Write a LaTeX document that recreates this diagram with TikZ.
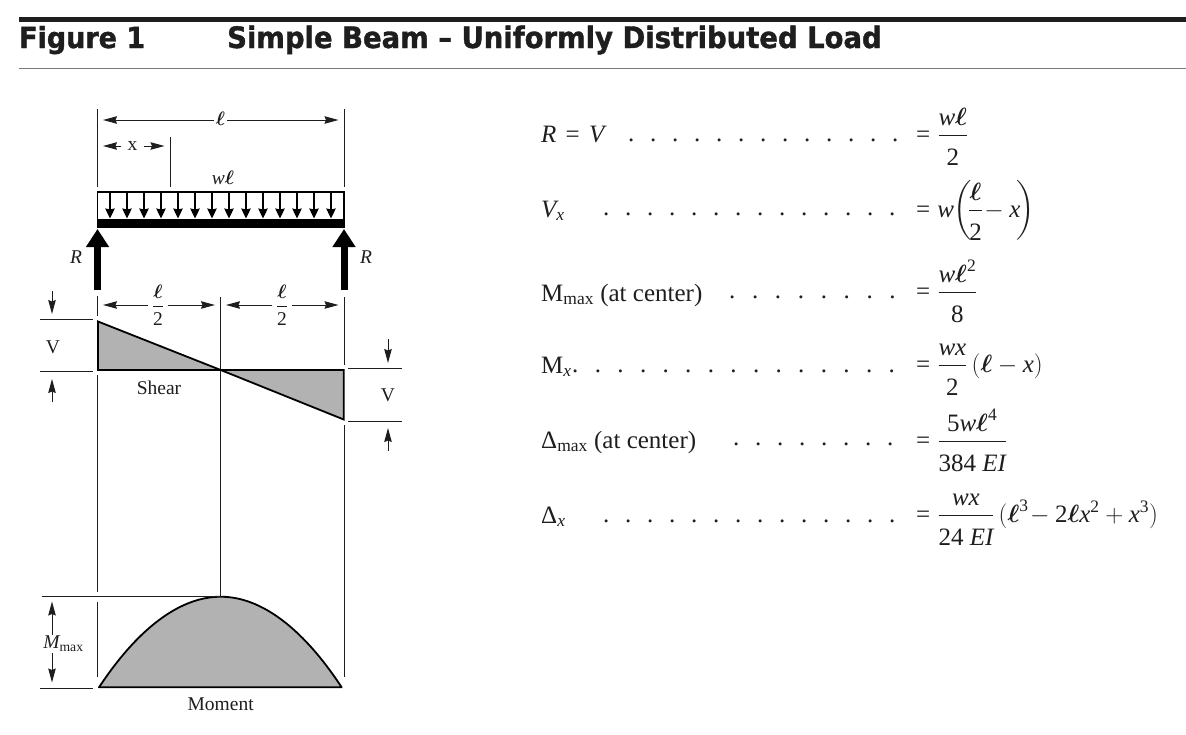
\documentclass[tikz,border=0pt]{standalone}
\usepackage{fix-cm}
\usepackage{amsmath}
\usepackage{fontspec}
\setmainfont{Liberation Serif}
\newfontfamily\titlefont[BoldFeatures={FakeBold=1.2,FakeStretch=0.93}]{DejaVu Sans}
\usetikzlibrary{arrows.meta}
\definecolor{shade}{HTML}{B2B2B2}
\definecolor{ink}{HTML}{1E1E1E}
\definecolor{rulegray}{HTML}{777777}
\newcommand{\eqfrac}[2]{\dfrac{#1}{\rule{0pt}{26pt}#2}}
\newcommand{\bell}{\boldsymbol{\ell}}
\newcommand{\dotrow}[2]{\foreach \n in {1,...,#1}{\makebox[#2pt][l]{.}}}
\tikzset{
titleText/.style={anchor=base west,inner sep=0pt,text=ink,font=\titlefont\bfseries\fontsize{29}{32}\selectfont},
dimText/.style={inner sep=2pt,text=ink,font=\fontsize{19.5}{22}\selectfont},
halfText/.style={inner sep=4pt,text=ink,font=\fontsize{19.5}{22}\selectfont},
eqText/.style={anchor=base west,inner sep=0pt,text=ink,font=\fontsize{25}{30}\selectfont},
extLine/.style={draw=ink,line width=1pt},
dimLine/.style={draw=ink,line width=1pt,-{Stealth[length=14pt,width=7.5pt,inset=1.5pt]}},
loadArrow/.style={draw=black,line width=1.1pt,-{Stealth[length=10pt,width=9.5pt,inset=1pt]}},
reaction/.style={draw=black,line width=7pt,-{Triangle[length=18pt,width=22pt]}},
diagram/.style={draw=black,line width=1.8pt,fill=shade,line join=miter},
}
\begin{document}
\begin{tikzpicture}[x=1pt,y=-1pt]
    \useasboundingbox (0,0) rectangle (1186,734);

    \fill[ink] (19,16.5) rectangle (1186,21.5);
    \draw[rulegray,line width=1pt] (19,68) -- (1186,68);
    \node[titleText] (figNo) at (19,48) {Figure 1};
    \node[titleText,font=\titlefont\bfseries\fontsize{29.5}{32}\selectfont] (figName) at (227,48) {Simple Beam – Uniformly Distributed Load};

    \draw[extLine] (97.5,109) -- (97.5,187);
    \draw[extLine] (344,109) -- (344,187);
    \draw[extLine] (170,137) -- (170,187);
    \node[dimText] (ell) at (220.5,119) {$\bell$};
    \coordinate (ellL) at (103,120);
    \coordinate (ellR) at (338.5,120);
    \draw[dimLine] (ell.west |- ellL) -- (ellL);
    \draw[dimLine] (ell.east |- ellR) -- (ellR);
    \node[dimText,inner sep=6pt] (xLen) at (132.5,146) {x};
    \coordinate (xL) at (103,146);
    \coordinate (xR) at (164.5,146);
    \draw[dimLine] (xLen) -- (xL);
    \draw[dimLine] (xLen) -- (xR);
    \node[dimText] (load) at (223,178) {$\mathit{w}\bell$};

    \draw[draw=black,line width=1.4pt] (97.5,192) rectangle (344,220);
    \foreach \i in {0,...,13}
        \draw[loadArrow] ({110+17*\i},193) -- ({110+17*\i},218.5);
    \fill[black] (97,219) rectangle (344.5,227.5);

    \coordinate (reactA) at (97.5,290);
    \coordinate (reactAtip) at (97.5,229);
    \coordinate (reactB) at (344,290);
    \coordinate (reactBtip) at (344,229);
    \draw[reaction] (reactA) -- (reactAtip);
    \draw[reaction] (reactB) -- (reactBtip);
    \node[dimText] (rA) at (76,257) {$\mathit{R}$};
    \node[dimText] (rB) at (366,257) {$\mathit{R}$};

    \node[halfText] (halfA) at (158,305) {$\dfrac{\bell}{\mathrm{2}}$};
    \node[halfText] (halfB) at (282,305) {$\dfrac{\bell}{\mathrm{2}}$};
    \coordinate (halfAL) at (103,305);
    \coordinate (halfAR) at (215,305);
    \coordinate (halfBL) at (226,305);
    \coordinate (halfBR) at (338.5,305);
    \draw[dimLine] (halfA) -- (halfAL);
    \draw[dimLine] (halfA) -- (halfAR);
    \draw[dimLine] (halfB) -- (halfBL);
    \draw[dimLine] (halfB) -- (halfBR);

    \draw[extLine] (97.5,296) -- (97.5,316);
    \draw[extLine] (97.5,375) -- (97.5,592);
    \draw[extLine] (97.5,602) -- (97.5,677);
    \draw[extLine] (220.7,297) -- (220.7,597);
    \draw[extLine] (344,297) -- (344,365);
    \draw[extLine] (344,425) -- (344,677);

    \draw[diagram] (98,321.5) -- (220.7,370) -- (98,370) -- cycle;
    \draw[diagram] (220.7,370) -- (343.7,370) -- (343.7,419.5) -- cycle;
    \node[dimText] (shear) at (159,388) {Shear};

    \draw[extLine] (39.5,319.5) -- (92.5,319.5);
    \draw[extLine] (39.5,371.5) -- (92.5,371.5);
    \draw[extLine] (348,368.5) -- (402,368.5);
    \draw[extLine] (348,421.5) -- (402,421.5);
    \node[dimText] (vA) at (53,347) {V};
    \node[dimText] (vB) at (388,395) {V};
    \coordinate (vAa) at (52,291);
    \coordinate (vAb) at (52,314);
    \coordinate (vAc) at (52,402);
    \coordinate (vAd) at (52,379);
    \coordinate (vBa) at (388,339);
    \coordinate (vBb) at (388,363);
    \coordinate (vBc) at (388,451);
    \coordinate (vBd) at (388,428);
    \draw[dimLine] (vAa) -- (vAb);
    \draw[dimLine] (vAc) -- (vAd);
    \draw[dimLine] (vBa) -- (vBb);
    \draw[dimLine] (vBc) -- (vBd);

    \draw[diagram,line join=round] (99,687.3) parabola bend (220.7,596.7) (341.7,687.3) -- cycle;
    \draw[extLine] (42,596.7) -- (220.7,596.7);
    \draw[extLine] (39.5,688) -- (92.5,688);
    \node[dimText,inner sep=1pt] (mMax) at (63.5,644) {$\mathit{M}_{\mathrm{max}}$};
    \coordinate (mUp) at (52,601.5);
    \coordinate (mDown) at (52,682.5);
    \draw[dimLine] (mMax.north -| mUp) -- (mUp);
    \draw[dimLine] (mMax.south -| mDown) -- (mDown);
    \node[dimText] (moment) at (220.7,704) {Moment};

    \node[eqText] (lineA) at (541,142) {$\mathit{R}$\hspace{3pt} = \hspace{3pt}$\mathit{V}$};
    \node[eqText] (dotsA) at (628,141) {\dotrow{13}{22}};
    \node[eqText] (eqA) at (916,142) {=\hspace{7pt}$\eqfrac{\mathit{w}\bell}{\mathrm{2}}$};

    \node[eqText] (lineB) at (541,217) {$\mathit{V}_{\mathit{x}}$};
    \node[eqText] (dotsB) at (603,215) {\dotrow{14}{22}};
    \node[eqText] (eqB) at (916,217) {=\hspace{7pt}$\mathit{w}\!\left(\rule[-24pt]{0pt}{60pt}\!\eqfrac{\bell}{\mathrm{2}}\!-\mathit{x}\!\right)$};

    \node[eqText] (lineC) at (541,301) {M$_{\mathrm{max}}$ (at center)};
    \node[eqText] (dotsC) at (729,298) {\dotrow{8}{22.9}};
    \node[eqText] (eqC) at (916,299) {=\hspace{7pt}$\eqfrac{\mathit{w}\bell^{\mathrm{2}}}{\mathrm{8}}$};

    \node[eqText] (lineD) at (541,373) {M$_{\mathit{x}}$};
    \node[eqText] (dotsD) at (572,372) {\dotrow{15}{22.6}};
    \node[eqText] (eqD) at (916,372) {=\hspace{7pt}$\eqfrac{\mathit{wx}}{\mathrm{2}}\,\mathrm{(}\bell-\mathit{x}\mathrm{)}$};

    \node[eqText] (lineE) at (541,448) {Δ$_{\mathrm{max}}$ (at center)};
    \node[eqText] (dotsE) at (733,445) {\dotrow{8}{22}};
    \node[eqText] (eqE) at (916,448) {=\hspace{7pt}$\eqfrac{\mathrm{5}\mathit{w}\bell^{\mathrm{4}}}{\mathrm{384}\ \mathit{EI}}$};

    \node[eqText] (lineF) at (541,523) {Δ$_{\mathit{x}}$};
    \node[eqText] (dotsF) at (603,522) {\dotrow{14}{22}};
    \node[eqText] (eqF) at (916,522) {=\hspace{7pt}$\eqfrac{\mathit{wx}}{\mathrm{24}\ \mathit{EI}}\,\mathrm{(}\bell^{\mathrm{3}}\!-\mathrm{2}\bell\mathit{x}^{\mathrm{2}}+\mathit{x}^{\mathrm{3}}\mathrm{)}$};
\end{tikzpicture}
\end{document}
